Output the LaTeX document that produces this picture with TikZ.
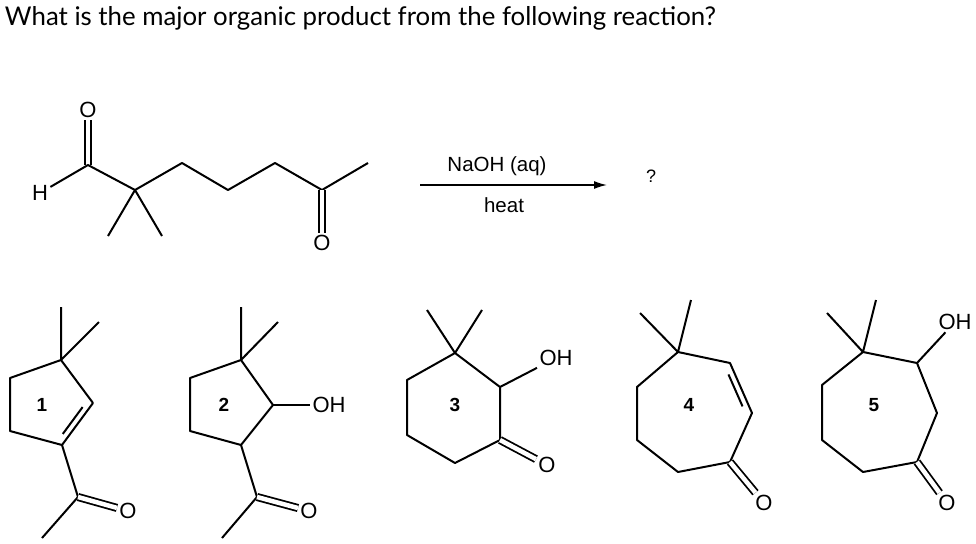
\documentclass[tikz,border=0pt]{standalone}
\usepackage{fontspec}
\setmainfont{Liberation Sans}
\newfontfamily\titlefont{Lato}
\usetikzlibrary{calc,arrows.meta}
\begin{document}
\begin{tikzpicture}[x=1pt,y=-1pt,line width=2pt,line join=round,
  atom/.style={inner sep=1.5pt,font=\fontsize{22}{22}\selectfont},
  num/.style={font=\bfseries\fontsize{19}{19}\selectfont},
  dbl/.style={double,double distance=4.5pt,line width=1.8pt}]
\useasboundingbox (0,0) rectangle (976,543);
\node[anchor=west,inner sep=0pt,font=\titlefont\fontsize{25.8}{26}\selectfont] (title) at (4,18) {What is the major organic product from the following reaction?};
% starting material
\node[atom] (sO1) at (88,110) {O};
\node[atom] (sH) at (40,193) {H};
\coordinate (s1) at (88,165);
\coordinate (s2) at (135,190);
\coordinate (s3) at (182,163);
\coordinate (s4) at (228,190);
\coordinate (s5) at (275,163);
\coordinate (s6) at (322,190);
\coordinate (s7) at (368,163);
\coordinate (sm1) at (108,236);
\coordinate (sm2) at (162,236);
\node[atom] (sO2) at (322,243) {O};
\draw[dbl] (s1) -- (sO1);
\draw (sH) -- (s1) -- (s2) -- (s3) -- (s4) -- (s5) -- (s6) -- (s7);
\draw (sm1) -- (s2) -- (sm2);
\draw[dbl] (s6) -- (sO2);
% arrow
\coordinate (ra) at (420,185);
\coordinate (rb) at (607,185);
\draw[line width=1.5pt,-{Latex[length=13pt,width=8pt]}] (ra) -- (rb);
\node[atom,font=\fontsize{20.5}{20}\selectfont] (cond1) at (497,166) {NaOH (aq)};
\node[atom,font=\fontsize{20.5}{20}\selectfont] (cond2) at (504,205) {heat};
\node[atom,font=\fontsize{18}{18}\selectfont] (q) at (651,176) {?};
% molecule 1
\coordinate (a1) at (61,360); \coordinate (a2) at (10,378); \coordinate (a3) at (10,431);
\coordinate (a4) at (62,445); \coordinate (a5) at (93,403);
\coordinate (am1) at (61,307); \coordinate (am2) at (99,322);
\coordinate (a6) at (78,497); \coordinate (a7) at (42,538);
\node[atom] (aO) at (128,511) {O};
\draw (a5) -- (a1) -- (a2) -- (a3) -- (a4) -- (a5);
\draw ($(a4)!.18!(a5)+(-4.8,-3.5)$) -- ($(a4)!.82!(a5)+(-4.8,-3.5)$);
\draw (am1) -- (a1) -- (am2);
\draw (a4) -- (a6) -- (a7);
\draw[dbl] (a6) -- (aO);
\node[num] (n1) at (42,405) {1};
% molecule 2
\coordinate (b1) at (241,360); \coordinate (b2) at (190,378); \coordinate (b3) at (190,431);
\coordinate (b4) at (241,445); \coordinate (b5) at (273,405);
\coordinate (bm1) at (241,307); \coordinate (bm2) at (278,322);
\coordinate (b6) at (257,497); \coordinate (b7) at (222,538);
\node[atom] (bO) at (309,511) {O};
\node[atom,anchor=west] (bOH) at (310,405) {OH};
\draw (b5) -- (b1) -- (b2) -- (b3) -- (b4) -- (b5);
\draw (bm1) -- (b1) -- (bm2);
\draw (b5) -- (bOH);
\draw (b4) -- (b6) -- (b7);
\draw[dbl] (b6) -- (bO);
\node[num] (n2) at (224,405) {2};
% molecule 3
\coordinate (c1) at (455,353); \coordinate (c2) at (407,380); \coordinate (c3) at (407,435);
\coordinate (c4) at (455,463); \coordinate (c5) at (500,440); \coordinate (c6) at (500,387);
\coordinate (cm1) at (427,310); \coordinate (cm2) at (482,310);
\node[atom] (cOH) at (556,358) {OH};
\node[atom] (cO) at (547,465) {O};
\draw (c1) -- (c2) -- (c3) -- (c4) -- (c5) -- (c6) -- (c1);
\draw (cm1) -- (c1) -- (cm2);
\draw (c6) -- (cOH);
\draw[dbl] (c5) -- (cO);
\node[num] (n3) at (455,405) {3};
% molecule 4
\coordinate (d1) at (678,352); \coordinate (d2) at (730,363); \coordinate (d3) at (752,413);
\coordinate (d4) at (730,462); \coordinate (d5) at (678,472); \coordinate (d6) at (637,440);
\coordinate (d7) at (637,387);
\coordinate (dm1) at (640,313); \coordinate (dm2) at (691,300);
\node[atom] (dO) at (764,503) {O};
\draw (d1) -- (d2) -- (d3) -- (d4) -- (d5) -- (d6) -- (d7) -- (d1);
\draw ($(d2)!.18!(d3)+(-5.5,2.4)$) -- ($(d2)!.82!(d3)+(-5.5,2.4)$);
\draw (dm1) -- (d1) -- (dm2);
\draw[dbl] (d4) -- (dO);
\node[num] (n4) at (689,405) {4};
% molecule 5
\coordinate (e1) at (863,352); \coordinate (e2) at (917,363); \coordinate (e3) at (937,413);
\coordinate (e4) at (917,462); \coordinate (e5) at (863,472); \coordinate (e6) at (822,440);
\coordinate (e7) at (822,385);
\coordinate (em1) at (827,313); \coordinate (em2) at (876,300);
\node[atom] (eOH) at (955,322) {OH};
\node[atom] (eO) at (947,503) {O};
\draw (e1) -- (e2) -- (e3) -- (e4) -- (e5) -- (e6) -- (e7) -- (e1);
\draw (em1) -- (e1) -- (em2);
\draw (e2) -- (eOH);
\draw[dbl] (e4) -- (eO);
\node[num] (n5) at (874,405) {5};
\end{tikzpicture}
\end{document}
